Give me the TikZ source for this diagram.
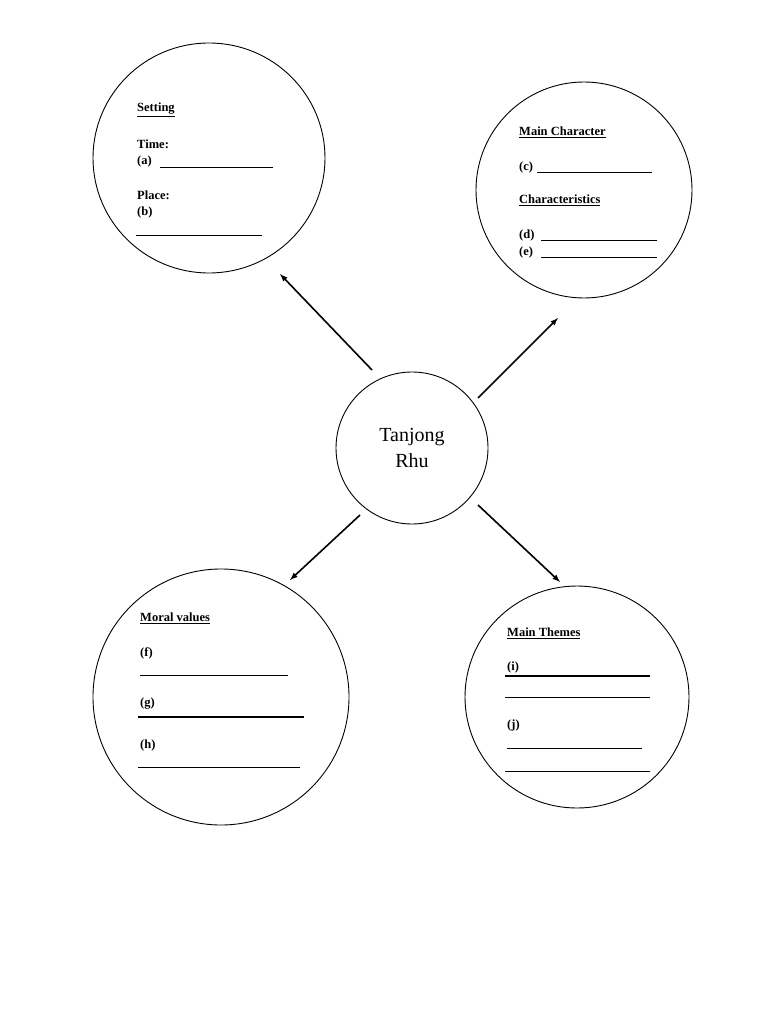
\documentclass[tikz,border=0pt]{standalone}
\usepackage{fontspec}
\setmainfont{Liberation Serif}
\begin{document}
\begin{tikzpicture}[x=1pt,y=-1pt,
  bub/.style={draw,line width=0.9pt},
  lab/.style={anchor=west,inner sep=0pt,font=\fontsize{12.5}{14}\selectfont\bfseries},
  ul/.style={line width=0.7pt},
  arr/.style={-latex,line width=1.6pt}]
\useasboundingbox (0,0) rectangle (768,1024);
\draw[bub] (209,158) ellipse [x radius=116,y radius=115];
\draw[bub] (584,190) ellipse [x radius=108,y radius=108];
\draw[bub] (221,697) ellipse [x radius=128,y radius=128];
\draw[bub] (577,697) ellipse [x radius=112,y radius=111];
\node[bub,circle,minimum size=152pt,align=center,font=\fontsize{20}{26}\selectfont] (c) at (412,448) {Tanjong\\Rhu};
\coordinate (s1) at (372,370); \coordinate (t1) at (280,274);
\coordinate (s2) at (478,398); \coordinate (t2) at (558,318);
\coordinate (s3) at (360,515); \coordinate (t3) at (290,580);
\coordinate (s4) at (478,505); \coordinate (t4) at (560,582);
\draw[arr] (s1)--(t1); \draw[arr] (s2)--(t2); \draw[arr] (s3)--(t3); \draw[arr] (s4)--(t4);
% Setting
\node[lab] (a1) at (137,110) {\underline{Setting}};
\node[lab] (a2) at (137,144) {Time:};
\node[lab] (a3) at (137,161) {(a)};
\draw[ul] (160,167)--(273,167);
\node[lab] (a4) at (137,195) {Place:};
\node[lab] (a5) at (137,212) {(b)};
\draw[ul] (136,235)--(262,235);
% Main character
\node[lab] (b1) at (519,132) {\underline{Main Character}};
\node[lab] (b2) at (519,167) {(c)};
\draw[ul] (537,172)--(652,172);
\node[lab] (b3) at (519,200) {\underline{Characteristics}};
\node[lab] (b4) at (519,235) {(d)};
\draw[ul] (541,240)--(657,240);
\node[lab] (b5) at (519,252) {(e)};
\draw[ul] (541,257)--(657,257);
% Moral values
\node[lab] (m1) at (140,618) {\underline{Moral values}};
\node[lab] (m2) at (140,653) {(f)};
\draw[ul] (140,675)--(288,675);
\node[lab] (m3) at (140,704) {(g)};
\draw[line width=1.1pt] (138,717)--(304,717);
\node[lab] (m4) at (140,745) {(h)};
\draw[ul] (138,767)--(300,767);
% Main themes
\node[lab] (n1) at (507,633) {\underline{Main Themes}};
\node[lab] (n2) at (507,667) {(i)};
\draw[line width=1.2pt] (505,676)--(650,676);
\draw[ul] (505,697)--(650,697);
\node[lab] (n3) at (507,725) {(j)};
\draw[ul] (507,748)--(642,748);
\draw[ul] (505,771)--(650,771);
\end{tikzpicture}
\end{document}
